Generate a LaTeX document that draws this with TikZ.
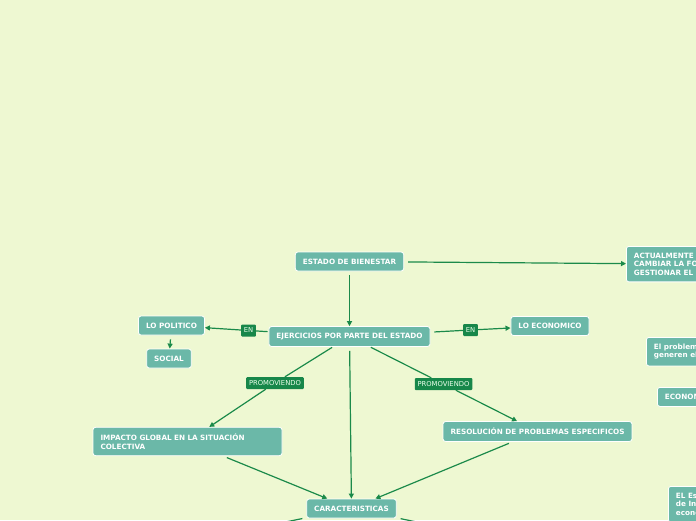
\documentclass[tikz,border=0pt]{standalone}
\usepackage{fontspec}
\setmainfont{DejaVu Sans}
\usetikzlibrary{arrows.meta}
\definecolor{fondocolor}{HTML}{EEF8D2}
\definecolor{cajacolor}{HTML}{6BB8A8}
\definecolor{lineacolor}{HTML}{1B8A4A}
\definecolor{etiqcolor}{HTML}{17874A}
\begin{document}
\begin{tikzpicture}[x=1pt,y=-1pt,
    concepto/.style={fill=cajacolor, draw=white, line width=0.8pt, rounded corners=2.5pt,
      text=white, font=\bfseries\fontsize{7.25}{8.5}\selectfont, align=left,
      inner xsep=7.5pt, inner ysep=6.5pt, minimum height=19pt},
    enlace/.style={fill=etiqcolor, rounded corners=1pt, text=white!92!green,
      font=\fontsize{6.8}{7}\selectfont, inner xsep=2.8pt, inner ysep=0pt, minimum height=12pt},
    linea/.style={draw=lineacolor, line width=1.2pt, shorten <=4pt},
    flecha/.style={linea, -{Triangle[length=5pt,width=5pt]}},
    tramo/.style={flecha, shorten <=0pt}]
                \useasboundingbox (0,0) rectangle (696,520);
                \clip (0,0) rectangle (696,520);
                \fill [fondocolor] (0,0) rectangle (696,520);

                % Drawing node estado
                \node [concepto] (estado) at (349.5,261.5) {ESTADO DE BIENESTAR};

                % Drawing node ejercicios
                \node [concepto] (ejer) at (349.5,336.5) {EJERCICIOS POR PARTE DEL ESTADO};

                % Drawing nodes lo politico, social, lo economico
                \node [concepto] (politico) at (171.5,325.5) {LO POLITICO};
                \node [concepto] (social) at (169,358.5) {SOCIAL};
                \node [concepto] (economico) at (550,326) {LO ECONOMICO};

                % Drawing node impacto
                \node [concepto, text width=174pt] (impacto) at (187.5,441.5) {IMPACTO GLOBAL EN LA SITUACIÓN\\COLECTIVA};

                % Drawing node resolucion
                \node [concepto] (resolucion) at (537.5,431.5) {RESOLUCIÓN DE PROBLEMAS ESPECIFICOS};

                % Drawing node caracteristicas
                \node [concepto] (carac) at (351.5,508.5) {CARACTERISTICAS};

                % Drawing nodes cut by the right edge
                \node [concepto, anchor=north west] (actual) at (626,246) {ACTUALMENTE ES NECESARIO\\CAMBIAR LA FORMA DE\\GESTIONAR EL ESTADO};
                \node [concepto, anchor=north west] (problema) at (646,337) {El problema es que\\generen el};
                \node [concepto, anchor=north west] (economia) at (657,387) {ECONOMIA};
                \node [concepto, anchor=north west] (elestado) at (668,486) {EL Estado\\de Interés\\económico};

                % Marking labels
                \node [enlace] (enL) at (248.5,330.5) {EN};
                \node [enlace] (enR) at (470.5,330) {EN};
                \node [enlace] (promoL) at (275,383) {PROMOVIENDO};
                \node [enlace] (promoR) at (443.5,384) {PROMOVIENDO};

                % Marking free ends below the picture
                \coordinate (bajoL) at (100,560);
                \coordinate (bajoM) at (352,600);
                \coordinate (bajoR) at (600,560);

                % Drawing connectors
                \draw [flecha] (estado) -- (actual);
                \draw [flecha] (estado) -- (ejer);
                \draw [linea, shorten <=1pt] (ejer) -- (enL);
                \draw [tramo] (enL) -- (politico);
                \draw [flecha] (politico) -- (social);
                \draw [linea] (ejer) -- (enR);
                \draw [tramo] (enR) -- (economico);
                \draw [linea, shorten <=1pt] (ejer) -- (promoL);
                \draw [tramo] (promoL) -- (impacto);
                \draw [linea, shorten <=1pt] (ejer) -- (promoR);
                \draw [tramo] (promoR) -- (resolucion);
                \draw [flecha] (ejer) -- (carac);
                \draw [flecha] (impacto) -- (carac);
                \draw [flecha] (resolucion) -- (carac);
                \draw [flecha] (carac) -- (bajoL);
                \draw [flecha] (carac) -- (bajoM);
                \draw [flecha] (carac) -- (bajoR);
\end{tikzpicture}
\end{document}
